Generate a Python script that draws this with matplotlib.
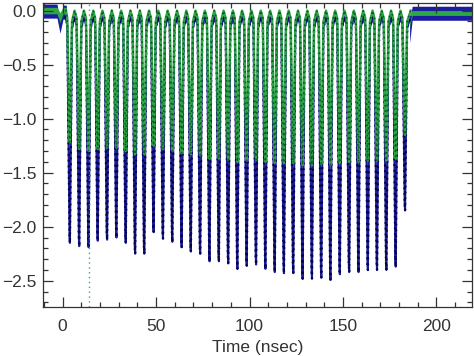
import matplotlib.pyplot as plt
import numpy as np

plt.rcParams['font.family'] = ['Liberation Sans', 'DejaVu Sans']

# pulse centres (nsec) and minimum values
pulse_t = [3.9, 8.9, 13.9, 18.8, 23.8, 28.8, 33.8, 38.8, 43.7, 48.7,
           53.7, 58.7, 63.7, 68.6, 73.6, 78.6, 83.6, 88.6, 93.5, 98.5,
           103.5, 108.5, 113.5, 118.4, 123.4, 128.4, 133.4, 138.4, 143.3, 148.3,
           153.3, 158.3, 163.3, 168.2, 173.2, 178.2, 183.2]
blue_depth = [-2.15, -2.18, -2.19, -2.13, -2.12, -2.10, -2.15, -2.25, -2.25, -2.05,
              -2.11, -2.14, -2.19, -2.23, -2.25, -2.32, -2.32, -2.34, -2.39, -2.36,
              -2.35, -2.39, -2.42, -2.43, -2.43, -2.48, -2.48, -2.47, -2.49, -2.44,
              -2.42, -2.42, -2.40, -2.40, -2.40, -2.37, -1.85]
green_depth = [-1.22, -1.28, -1.30, -1.28, -1.27, -1.27, -1.30, -1.33, -1.33, -1.25,
               -1.28, -1.30, -1.32, -1.33, -1.34, -1.37, -1.37, -1.38, -1.40, -1.39,
               -1.38, -1.40, -1.41, -1.41, -1.41, -1.43, -1.43, -1.42, -1.43, -1.41,
               -1.40, -1.40, -1.39, -1.39, -1.39, -1.37, -1.15]

# baseline before and after the pulse train
pre_t = [-10.5, -3.0, -1.4, 0.2, 2.0]
blue_pre_hi = [0.06, 0.06, -0.10, 0.05, 0.05]
blue_pre_lo = [-0.07, -0.07, -0.21, -0.08, -0.08]
green_pre_hi = [0.03, 0.03, -0.02, 0.03, 0.03]
green_pre_lo = [-0.03, -0.03, -0.11, -0.03, -0.03]
post_t = [185.6, 187.0, 200.0, 219.0]
blue_post_hi = [-0.10, 0.04, 0.04, 0.04]
blue_post_lo = [-0.30, -0.09, -0.09, -0.09]
green_post_hi = [-0.04, 0.00, 0.00, 0.00]
green_post_lo = [-0.15, -0.045, -0.045, -0.045]

blue_top = -0.06
green_top = 0.0
marker_line = 14.0

BLUE = '#1c1ca0'
BLUE_DOT = '#05054a'
GREEN = '#2aa844'
GREEN_DOT = '#145a26'


def trace(tops, depths, start):
    xs = [start]
    ys = [tops]
    for t, d in zip(pulse_t, depths):
        xs += [t - 1.4, t - 0.2, t, t + 1.1, t + 2.5]
        ys += [tops - 0.07, d * 0.97, d, tops - 0.1, tops]
    xs[-1] = 186.2
    ys[-1] = tops
    return xs, ys


fig = plt.figure(figsize=(4.74, 3.56), dpi=100)
ax = fig.add_axes([0.0907, 0.1385, 0.9051, 0.8531])

ax.fill_between(pre_t, blue_pre_lo, blue_pre_hi, color=BLUE, lw=0)
ax.fill_between(post_t, blue_post_lo, blue_post_hi, color=BLUE, lw=0)
bx, by = trace(blue_top, blue_depth, 1.5)
ax.plot(bx, by, color=BLUE, lw=1.5)
ax.plot(bx, by, color=BLUE_DOT, lw=1.8, dashes=(0.1, 2.2), dash_capstyle='round')

ax.fill_between(pre_t, green_pre_lo, green_pre_hi, color=GREEN, lw=0)
ax.fill_between(post_t, green_post_lo, green_post_hi, color=GREEN, lw=0)
gx, gy = trace(green_top, green_depth, 1.8)
ax.plot(gx, gy, color=GREEN, lw=1.7)
ax.plot(gx, gy, color=GREEN_DOT, lw=1.4, dashes=(0.1, 2.6), dash_capstyle='round')

ax.axvline(marker_line, color='#3caa6a', lw=1.0, ls=(0, (1, 2.5)))

ax.set_xlim(-10.5, 219)
ax.set_ylim(-2.74, 0.07)
ax.set_xticks([0, 50, 100, 150, 200])
ax.set_xticks(np.arange(-10, 220, 10), minor=True)
ax.set_yticks([0.0, -0.5, -1.0, -1.5, -2.0, -2.5])
ax.set_yticks(np.arange(-2.7, 0.05, 0.1), minor=True)
ax.set_yticklabels(['0.0', '\u22120.5', '\u22121.0', '\u22121.5', '\u22122.0', '\u22122.5'])
ax.tick_params(which='both', direction='in', top=True, right=True,
               labelsize=12.5, color='#333333', labelcolor='#333333')
ax.tick_params(which='major', length=7, width=0.9, pad=4.5)
ax.tick_params(axis='x', which='major', pad=9)
ax.tick_params(which='minor', length=3.5, width=0.9)
for s in ax.spines.values():
    s.set_color('#333333')
    s.set_linewidth(0.9)
ax.set_xlabel('Time (nsec)', fontsize=12.5, color='#333333', labelpad=4)

fig.savefig('out.png', dpi=100)
